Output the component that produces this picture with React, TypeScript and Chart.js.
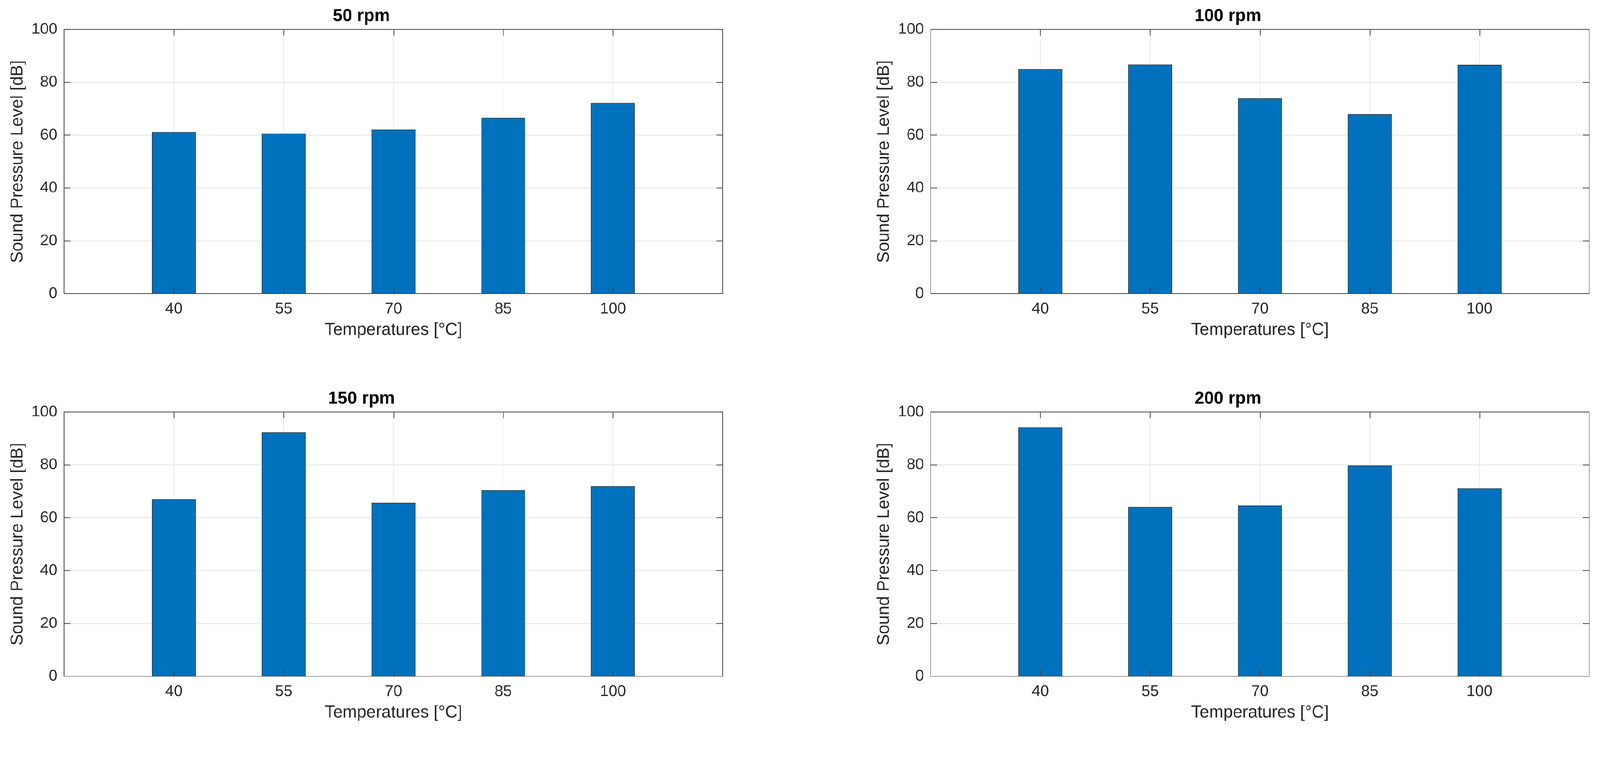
import { useEffect, useRef, useState } from 'react';
import Chart from 'chart.js/auto';

// temperatures on the x axis
const TEMPERATURES = [40, 55, 70, 85, 100];

// sound pressure level per speed [dB]
const SPL_50_RPM = [61.2, 60.6, 62.1, 66.6, 72.2];
const SPL_100_RPM = [84.9, 86.7, 73.9, 67.9, 86.6];
const SPL_150_RPM = [67.0, 92.3, 65.6, 70.4, 72.0];
const SPL_200_RPM = [94.2, 64.1, 64.6, 79.8, 71.1];

const Y_TICKS = [0, 20, 40, 60, 80, 100];

const FONT = '"Liberation Sans", Arial, Helvetica, sans-serif';
const BAR_COLOR = '#0072BD';
const AXIS_COLOR = '#404040';
const TEXT_COLOR = '#262626';

const PAGE_W = 4317;
const PAGE_H = 1975;

// MATLAB style box with inward tick marks
const boxPlugin = {
  id: 'matlabBox',
  afterDatasetsDraw(chart: any) {
    const { ctx, chartArea, scales } = chart;
    const { left, right, top, bottom } = chartArea;
    const tl = 17;
    ctx.save();
    ctx.strokeStyle = AXIS_COLOR;
    ctx.lineWidth = 2;
    ctx.beginPath();
    scales.x.ticks.forEach((t: any) => {
      const px = Math.round(scales.x.getPixelForValue(t.value)) + 0.5;
      ctx.moveTo(px, bottom);
      ctx.lineTo(px, bottom - tl);
      ctx.moveTo(px, top);
      ctx.lineTo(px, top + tl);
    });
    scales.y.ticks.forEach((t: any) => {
      const py = scales.y.getPixelForValue(t.value);
      ctx.moveTo(left, py);
      ctx.lineTo(left + tl, py);
      ctx.moveTo(right, py);
      ctx.lineTo(right - tl, py);
    });
    ctx.stroke();
    ctx.strokeRect(left, top, right - left, bottom - top);
    ctx.restore();
  },
};

interface SubplotProps {
  title: string;
  values: number[];
  left: number;
  top: number;
}

function Subplot({ title, values, left, top }: SubplotProps) {
  const canvasRef = useRef<HTMLCanvasElement>(null);

  useEffect(() => {
    if (!canvasRef.current) return;
    const chart = new Chart(canvasRef.current, {
      type: 'bar',
      data: {
        datasets: [
          {
            data: TEMPERATURES.map((t, i) => ({ x: t, y: values[i] })),
            backgroundColor: BAR_COLOR,
            borderColor: '#1a1a1a',
            borderWidth: 1.5,
            categoryPercentage: 1,
            barPercentage: 0.4,
          },
        ],
      },
      options: {
        animation: false,
        responsive: true,
        maintainAspectRatio: false,
        devicePixelRatio: 2,
        layout: { padding: { left: 0, right: 28, top: 0, bottom: 0 } },
        plugins: {
          legend: { display: false },
          tooltip: { enabled: false },
          title: {
            display: true,
            text: title,
            color: '#000',
            font: { family: FONT, size: 47, weight: 'bold' },
            padding: { top: 16, bottom: 7 },
          },
        },
        scales: {
          x: {
            type: 'linear',
            min: 25,
            max: 115,
            offset: false,
            afterBuildTicks: (scale: any) => {
              scale.ticks = TEMPERATURES.map((v) => ({ value: v }));
            },
            afterFit: (scale: any) => {
              scale.height = 126;
            },
            grid: { color: '#e3e3e3', lineWidth: 1.5, drawTicks: false, offset: false },
            border: { display: false },
            ticks: {
              color: TEXT_COLOR,
              font: { family: FONT, size: 42 },
              padding: 16,
              maxRotation: 0,
              autoSkip: false,
            },
            title: {
              display: true,
              text: 'Temperatures [°C]',
              color: TEXT_COLOR,
              font: { family: FONT, size: 46 },
              padding: { top: 0, bottom: 0 },
            },
          },
          y: {
            min: 0,
            max: 100,
            afterBuildTicks: (scale: any) => {
              scale.ticks = Y_TICKS.map((v) => ({ value: v }));
            },
            afterFit: (scale: any) => {
              scale.width = 173;
            },
            grid: { color: '#e3e3e3', lineWidth: 2, drawTicks: false },
            border: { display: false },
            ticks: {
              color: TEXT_COLOR,
              font: { family: FONT, size: 42 },
              padding: 18,
            },
            title: {
              display: true,
              text: 'Sound Pressure Level [dB]',
              color: TEXT_COLOR,
              font: { family: FONT, size: 46 },
              padding: { top: 20, bottom: 0 },
            },
          },
        },
      },
      plugins: [boxPlugin],
    } as any);
    return () => chart.destroy();
  }, [title, values]);

  return (
    <div style={{ position: 'absolute', left, top, width: 1978, height: 919 }}>
      <canvas ref={canvasRef}></canvas>
    </div>
  );
}

export default function App() {
  // fit the 4317x1975 figure into whatever the real viewport is
  const [scale, setScale] = useState(() =>
    Math.min(window.innerWidth / PAGE_W, window.innerHeight / PAGE_H)
  );

  useEffect(() => {
    const onResize = () =>
      setScale(Math.min(window.innerWidth / PAGE_W, window.innerHeight / PAGE_H));
    window.addEventListener('resize', onResize);
    return () => window.removeEventListener('resize', onResize);
  }, []);

  return (
    <div
      style={{
        position: 'absolute',
        left: 0,
        top: 0,
        width: PAGE_W,
        height: PAGE_H,
        background: '#fff',
        transform: `scale(${scale})`,
        transformOrigin: '0 0',
      }}
    >
      <Subplot title="50 rpm" values={SPL_50_RPM} left={0} top={0} />
      <Subplot title="100 rpm" values={SPL_100_RPM} left={2338} top={0} />
      <Subplot title="150 rpm" values={SPL_150_RPM} left={0} top={1033} />
      <Subplot title="200 rpm" values={SPL_200_RPM} left={2338} top={1033} />
    </div>
  );
}
